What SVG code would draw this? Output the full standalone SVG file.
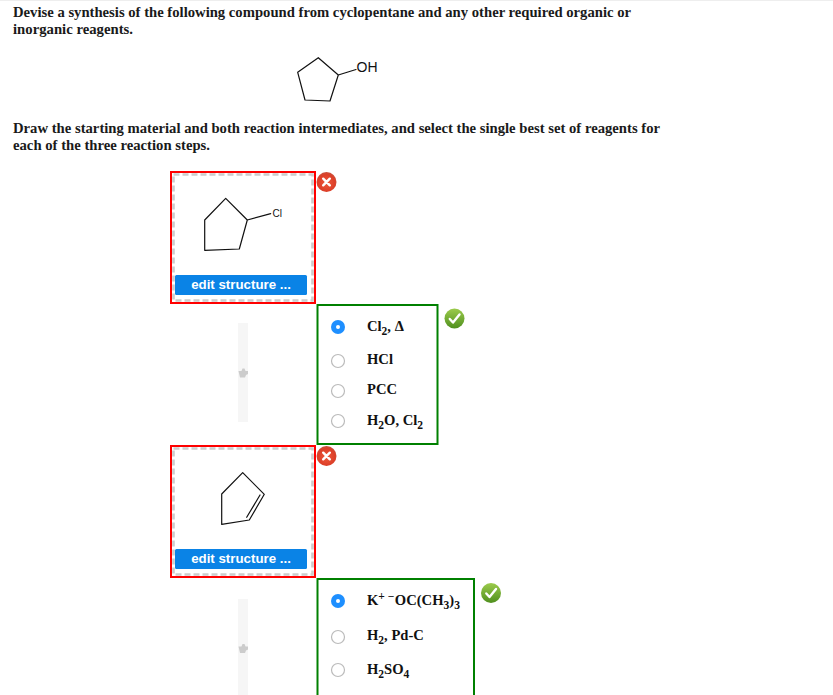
<svg xmlns="http://www.w3.org/2000/svg" width="833" height="695" viewBox="0 0 833 695">
<defs>
<radialGradient id="gx" cx="50%" cy="55%" r="55%"><stop offset="0" stop-color="#ee5a3c"/><stop offset=".75" stop-color="#dd3f28"/><stop offset="1" stop-color="#c9503c"/></radialGradient>
<linearGradient id="gc" x1="0" y1="0" x2="0" y2="1"><stop offset="0" stop-color="#9ccb4c"/><stop offset="1" stop-color="#4f8f1e"/></linearGradient>
</defs>
<style>
.q{font:bold 14px "Liberation Serif",serif;fill:#1a1a1a}
.o{font:bold 14.6px "Liberation Serif",serif;fill:#111}
.s{font-size:11.500px}
.b{fill:none;stroke:#111;stroke-width:1.2;stroke-linejoin:round;stroke-linecap:round}
.red{fill:#fff;stroke:#f00;stroke-width:2}
.dash{fill:none;stroke:#ccc;stroke-width:2.600;stroke-dasharray:6 3}
.btn{fill:#0a83e6}
.bt{font:bold 13.3px "Liberation Sans",sans-serif;fill:#fff;text-anchor:middle}
.grn{fill:#fff;stroke:#008000;stroke-width:2}
.r{fill:#fff;stroke:#bbb;stroke-width:1.2}
.rs{fill:#1e8fff}
.bar{fill:#f6f6f6}
.x{fill:url(#gx)}
.m{fill:none;stroke:#fff;stroke-width:2.400;stroke-linecap:round;stroke-linejoin:round}
.c{fill:url(#gc)}
.pz{fill:#ccc}
</style>
<rect width="833" height="1" fill="#eee"/>
<g id="question">
<text class="q" x="13" y="17" textLength="618" lengthAdjust="spacingAndGlyphs">Devise a synthesis of the following compound from cyclopentane and any other required organic or</text>
<text class="q" x="13" y="34" textLength="120" lengthAdjust="spacingAndGlyphs">inorganic reagents.</text>
<text class="q" x="13" y="133" textLength="647" lengthAdjust="spacingAndGlyphs">Draw the starting material and both reaction intermediates, and select the single best set of reagents for</text>
<text class="q" x="13" y="150" textLength="197" lengthAdjust="spacingAndGlyphs">each of the three reaction steps.</text>
</g>
<g id="target">
<path class="b" d="M318.300 57.700L338.300 75L330 101L305 100L297.700 72.300Z M338.300 75L356 69.500"/>
<text x="356.500" y="72" font-family="Liberation Sans,sans-serif" font-size="14" fill="#111">OH</text>
</g>
<g id="node1">
<rect class="red" x="171" y="172" width="144" height="131"/>
<rect class="dash" x="173.500" y="174.500" width="139" height="126"/>
<path class="b" d="M225.700 198.300L247.300 220L239.300 249L204.700 250.300L204.700 220Z M247.300 220L270.700 213.700"/>
<text x="272.500" y="216.500" font-family="Liberation Sans,sans-serif" font-size="10" fill="#111">Cl</text>
<rect class="btn" x="175" y="275" width="132" height="20" rx="1.500"/>
<text class="bt" x="241" y="289">edit structure ...</text>
<circle class="x" cx="326.500" cy="182" r="10"/>
<path class="m" d="M323.200 178.700L329.800 185.300M329.800 178.700L323.200 185.300"/>
</g>
<g id="step1">
<rect class="bar" x="238" y="323" width="10" height="99"/>
<path class="pz" d="M238.500 371h3l1-2.500h2l1 2.500h2.500v3l-2 1-1 2.500h-5z"/>
<rect class="grn" x="317.500" y="305" width="120" height="139"/>
<circle class="rs" cx="338" cy="327" r="7"/><circle cx="338" cy="327" r="2" fill="#fff"/>
<circle class="r" cx="338" cy="361" r="6.500"/>
<circle class="r" cx="338" cy="391" r="6.500"/>
<circle class="r" cx="338" cy="421" r="6.500"/>
<text class="o" x="367" y="331">Cl<tspan class="s" dy="4">2</tspan><tspan dy="-4">, Δ</tspan></text>
<text class="o" x="367" y="364">HCl</text>
<text class="o" x="367" y="394">PCC</text>
<text class="o" x="367" y="425">H<tspan class="s" dy="4">2</tspan><tspan dy="-4">O, Cl</tspan><tspan class="s" dy="4">2</tspan></text>
<circle class="c" cx="454.500" cy="318.500" r="10"/>
<path class="m" d="M449.800 319L453 322.500L459.500 314.500"/>
</g>
<g id="node2">
<rect class="red" x="171" y="446" width="144" height="131"/>
<rect class="dash" x="173.500" y="448.500" width="139" height="126"/>
<path class="b" d="M242.700 472.700L264.300 494.300L249.300 520L221.700 524.300L221.700 494Z M260 495L246.700 517.300"/>
<rect class="btn" x="175" y="549" width="132" height="20" rx="1.500"/>
<text class="bt" x="241" y="563">edit structure ...</text>
<circle class="x" cx="326.500" cy="456" r="10"/>
<path class="m" d="M323.200 452.700L329.800 459.300M329.800 452.700L323.200 459.300"/>
</g>
<g id="step2">
<rect class="bar" x="238" y="599" width="10" height="96"/>
<path class="pz" d="M238.500 646.500h3l1-2.500h2l1 2.500h2.500v3l-2 1-1 2.500h-5z"/>
<path class="grn" d="M317.500 695V579H474V695"/>
<circle class="rs" cx="338" cy="601" r="7"/><circle cx="338" cy="601" r="2" fill="#fff"/>
<circle class="r" cx="338" cy="637" r="6.500"/>
<circle class="r" cx="338" cy="670" r="6.500"/>
<text class="o" x="367" y="605">K<tspan class="s" dy="-5">+ −</tspan><tspan dy="5" dx="0.500">OC(CH</tspan><tspan class="s" dy="4">3</tspan><tspan dy="-4">)</tspan><tspan class="s" dy="4">3</tspan></text>
<text class="o" x="367" y="640">H<tspan class="s" dy="4">2</tspan><tspan dy="-4">, Pd-C</tspan></text>
<text class="o" x="367" y="674">H<tspan class="s" dy="4">2</tspan><tspan dy="-4">SO</tspan><tspan class="s" dy="4">4</tspan></text>
<circle class="c" cx="491" cy="593" r="10"/>
<path class="m" d="M486.300 593.500L489.500 597L496 589"/>
</g>
</svg>
